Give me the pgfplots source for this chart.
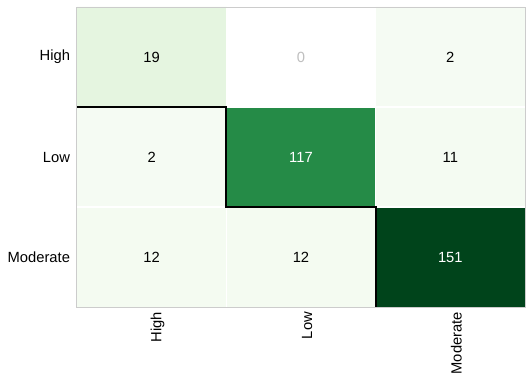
\documentclass[border=0pt]{standalone}
\usepackage{pgfplots}
\pgfplotsset{compat=1.18}
\usepackage{fontspec}
\setmainfont{Liberation Sans}
\usetikzlibrary{calc}
\definecolor{framegray}{RGB}{204,204,204}
\definecolor{mutedgray}{RGB}{191,191,191}
\begin{document}
\fontsize{14.5}{17}\selectfont
\begin{tikzpicture}
\begin{axis}[name=cm, at={(0,0)}, anchor=south west,
  scale only axis, width=448bp, height=300bp,
  xmin=-0.5, xmax=2.5, ymin=-0.5, ymax=2.5, y dir=reverse,
  enlargelimits=false, axis on top,
  axis line style={draw=framegray, line width=1bp},
  xtick={0,1,2}, ytick={0,1,2},
  xticklabels={High,Low,Moderate},
  yticklabels={High,Low,Moderate},
  major tick length=0pt,
  tick label style={font=\fontsize{14.8}{17}\selectfont},
  xticklabel style={rotate=90, anchor=east, yshift=-6bp},
  yticklabel style={anchor=east, xshift=-2bp},
  clip=false,
]
\addplot[matrix plot*, mesh/cols=3, mesh/ordering=x varies,
  mesh/color input=explicit, point meta=explicit symbolic] table[meta=c] {
x y c
0 0 rgb255=229,245,224
1 0 rgb255=255,255,255
2 0 rgb255=245,251,243
0 1 rgb255=245,251,243
1 1 rgb255=37,139,71
2 1 rgb255=244,251,242
0 2 rgb255=244,251,241
1 2 rgb255=244,251,241
2 2 rgb255=0,68,27
};
% white cell separators
\draw[white, line width=1.5bp] (axis cs:0.5,-0.5) -- (axis cs:0.5,2.5);
\draw[white, line width=1.5bp] (axis cs:1.5,-0.5) -- (axis cs:1.5,2.5);
\draw[white, line width=1.5bp] (axis cs:-0.5,0.5) -- (axis cs:2.5,0.5);
\draw[white, line width=1.5bp] (axis cs:-0.5,1.5) -- (axis cs:2.5,1.5);
% diagonal highlight
\draw[black, line width=2bp] (axis cs:-0.5,0.5) -- (axis cs:0.5,0.5) -- (axis cs:0.5,1.5) -- (axis cs:1.5,1.5) -- (axis cs:1.5,2.5);
% cell labels
\addplot[only marks, mark=none, nodes near coords, point meta=explicit symbolic,
  nodes near coords style={anchor=center, text=black, font=\fontsize{14.8}{17}\selectfont}]
  table[meta=v] {
x y v
0 0 19
2 0 2
0 1 2
2 1 11
0 2 12
1 2 12
};
\addplot[only marks, mark=none, nodes near coords, point meta=explicit symbolic,
  nodes near coords style={anchor=center, text=white, font=\fontsize{14.8}{17}\selectfont}]
  table[meta=v] {
x y v
1 1 117
2 2 151
};
\addplot[only marks, mark=none, nodes near coords, point meta=explicit symbolic,
  nodes near coords style={anchor=center, text=mutedgray, font=\fontsize{14.8}{17}\selectfont}]
  table[meta=v] {
x y v
1 0 0
};
\end{axis}
\path ($(cm.south west)+(-77bp,-76bp)$) rectangle ($(cm.north east)+(6bp,7bp)$);
\end{tikzpicture}
\end{document}
